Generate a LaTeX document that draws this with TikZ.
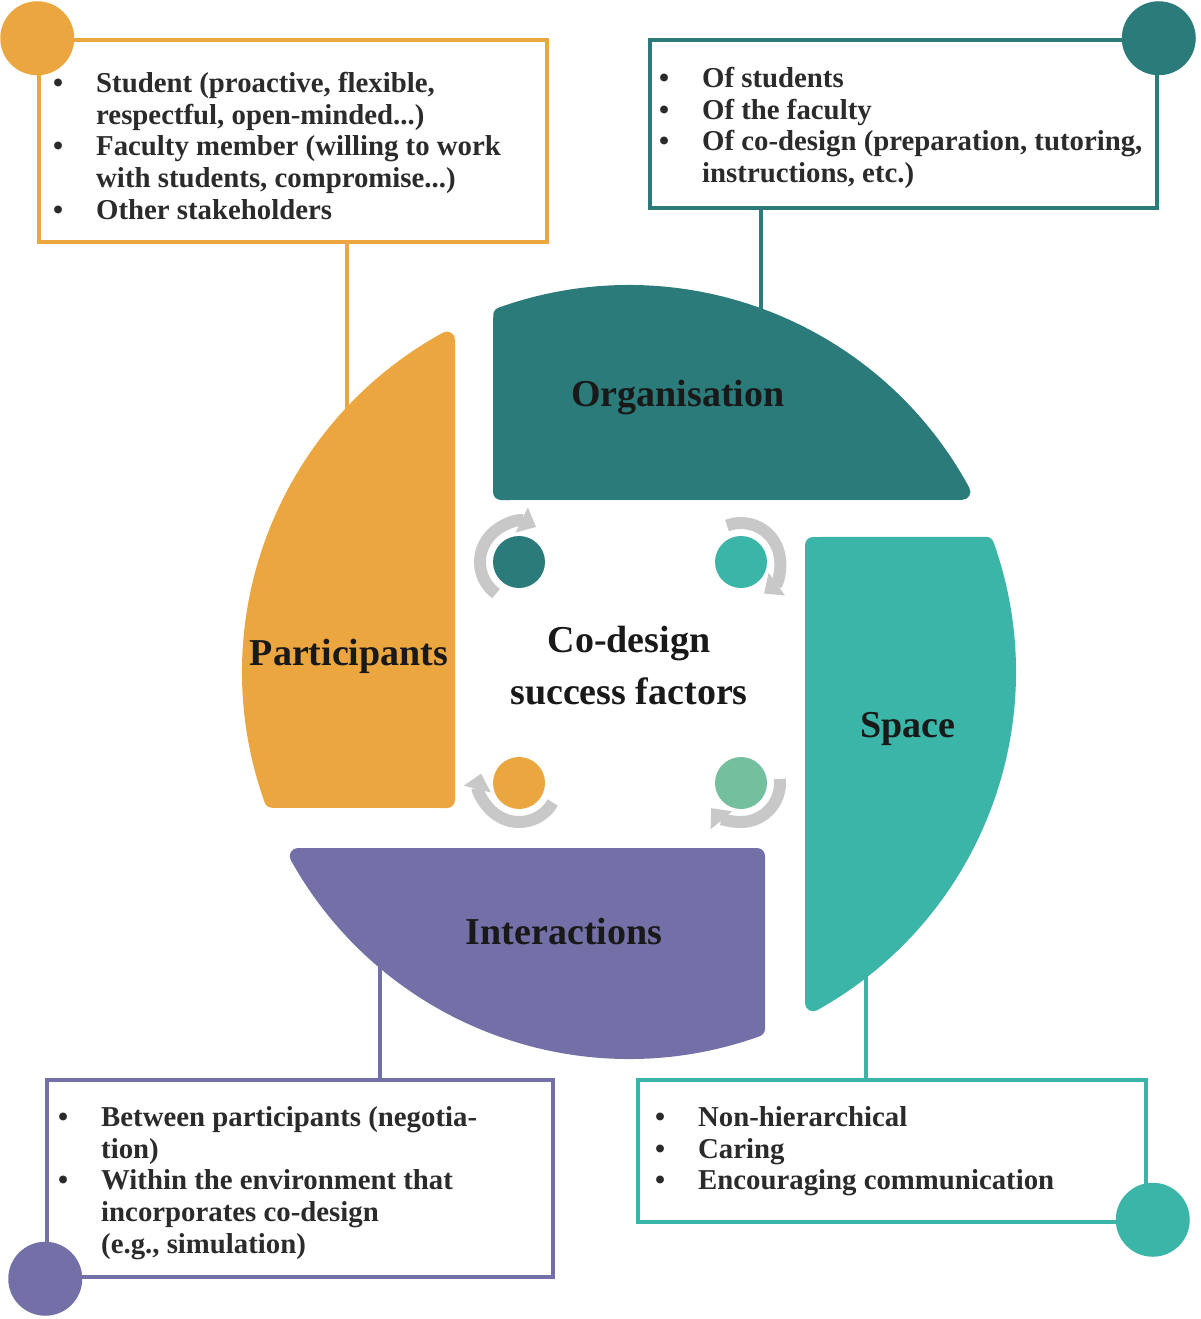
\documentclass[tikz,border=0pt]{standalone}
\usepackage{fontspec}
\setmainfont{Liberation Serif}
\usetikzlibrary{arrows.meta}

\definecolor{partC}{HTML}{ECA63F}
\definecolor{orgC}{HTML}{2A7B7A}
\definecolor{spaceC}{HTML}{3BB5A8}
\definecolor{interC}{HTML}{7370A8}
\definecolor{greenC}{HTML}{74C09E}
\definecolor{loopC}{HTML}{C8C8C8}
\definecolor{inkC}{HTML}{2B2B2B}

\tikzset{
    listbox/.style={draw=#1, line width=3.5pt, inner sep=0pt},
    badge/.style={circle, fill=#1, minimum size=74pt, inner sep=0pt},
    link/.style={draw=#1, line width=3.5pt},
    segment/.style={fill=#1, draw=#1, line width=16pt, line join=round},
    factor/.style={font=\fontsize{38}{52}\selectfont\bfseries, text=black!90},
    listtext/.style={font=\fontsize{28.8}{31.7}\selectfont\bfseries, text=inkC,
        align=left, inner sep=0pt, anchor=north west},
    hub/.style={circle, fill=#1, minimum size=52pt, inner sep=0pt},
    loop/.style={draw=loopC, line width=12pt, -{Triangle[width=27pt,length=16pt]}}
}

\newcommand{\itm}{\strut\makebox[43pt][l]{\textbullet}}
\newcommand{\cnt}{\strut\hspace*{43pt}}

\begin{document}
\begin{tikzpicture}[x=1pt,y=-1pt]
            \useasboundingbox (0,0) rectangle (1200,1319);

            \node[listbox=partC, minimum width=508pt, minimum height=202pt] (partbox) at (293,141) {};
            \node[listbox=orgC, minimum width=507pt, minimum height=168pt] (orgbox) at (903.5,124) {};
            \node[listbox=interC, minimum width=506pt, minimum height=197pt] (interbox) at (300,1178.5) {};
            \node[listbox=spaceC, minimum width=508pt, minimum height=142pt] (spacebox) at (892,1151) {};

            \coordinate (partend) at (347,412);
            \coordinate (orgend) at (761,312);
            \coordinate (interend) at (380,962);
            \coordinate (spaceend) at (866,972);

            \draw[link=partC] (partbox.south -| partend) -- (partend);
            \draw[link=orgC] (orgbox.south -| orgend) -- (orgend);
            \draw[link=interC] (interend) -- (interbox.north -| interend);
            \draw[link=spaceC] (spaceend) -- (spacebox.north -| spaceend);

            \node[badge=partC] (partdot) at (partbox.north west) {};
            \node[badge=orgC] (orgdot) at (orgbox.north east) {};
            \node[badge=interC] (interdot) at (interbox.south west) {};
            \node[badge=spaceC] (spacedot) at ([shift={(5,-4)}]spacebox.south east) {};

            \coordinate (hubcentre) at (629,672);
            \filldraw[segment=partC] (447,800) -- ([shift={(160.3:379)}]hubcentre)
                arc[start angle=160.3, end angle=241.3, radius=379] -- cycle;
            \filldraw[segment=orgC] (501,492) -- ([shift={(-109.7:379)}]hubcentre)
                arc[start angle=-109.7, end angle=-28.4, radius=379] -- cycle;
            \filldraw[segment=spaceC] (813,545) -- ([shift={(-19.6:379)}]hubcentre)
                arc[start angle=-19.6, end angle=60.95, radius=379] -- cycle;
            \filldraw[segment=interC] (757,856) -- ([shift={(70.26:379)}]hubcentre)
                arc[start angle=70.26, end angle=150.95, radius=379] -- cycle;

            \node[factor] (part) at (349,656) {Participants};
            \node[factor] (org) at (678,398) {Organisation};
            \node[factor] (space) at (908,729) {Space};
            \node[factor] (inter) at (564,931) {Interactions};
            \node[factor, align=center] (core) at (629,666) {Co-design\\success factors};

            \node[hub=orgC] (hubA) at (519,562) {};
            \node[hub=spaceC] (hubB) at (741,562) {};
            \node[hub=partC] (hubC) at (519,783) {};
            \node[hub=greenC] (hubD) at (741,783) {};

            \draw[loop] ([shift={(126:39)}]hubA.center) arc[start angle=126, end angle=296, radius=39];
            \draw[loop] ([shift={(249:39)}]hubB.center) arc[start angle=249, end angle=414, radius=39];
            \draw[loop] ([shift={(30:39)}]hubC.center) arc[start angle=30, end angle=194, radius=39];
            \draw[loop] ([shift={(-6:39)}]hubD.center) arc[start angle=-6, end angle=140, radius=39];

            \node[listtext] (partlist) at (53,70) {\itm Student (proactive, flexible,\\
                \cnt respectful, open-minded...)\\
                \itm Faculty member (willing to work\\
                \cnt with students, compromise...)\\
                \itm Other stakeholders};
            \node[listtext] (orglist) at (659,65) {\itm Of students\\
                \itm Of the faculty\\
                \itm Of co-design (preparation, tutoring,\\
                \cnt instructions, etc.)};
            \node[listtext] (interlist) at (58,1104) {\itm Between participants (negotia-\\
                \cnt tion)\\
                \itm Within the environment that\\
                \cnt incorporates co-design\\
                \cnt (e.g., simulation)};
            \node[listtext] (spacelist) at (655,1104) {\itm Non-hierarchical\\
                \itm Caring\\
                \itm Encouraging communication};
        \end{tikzpicture}
\end{document}
